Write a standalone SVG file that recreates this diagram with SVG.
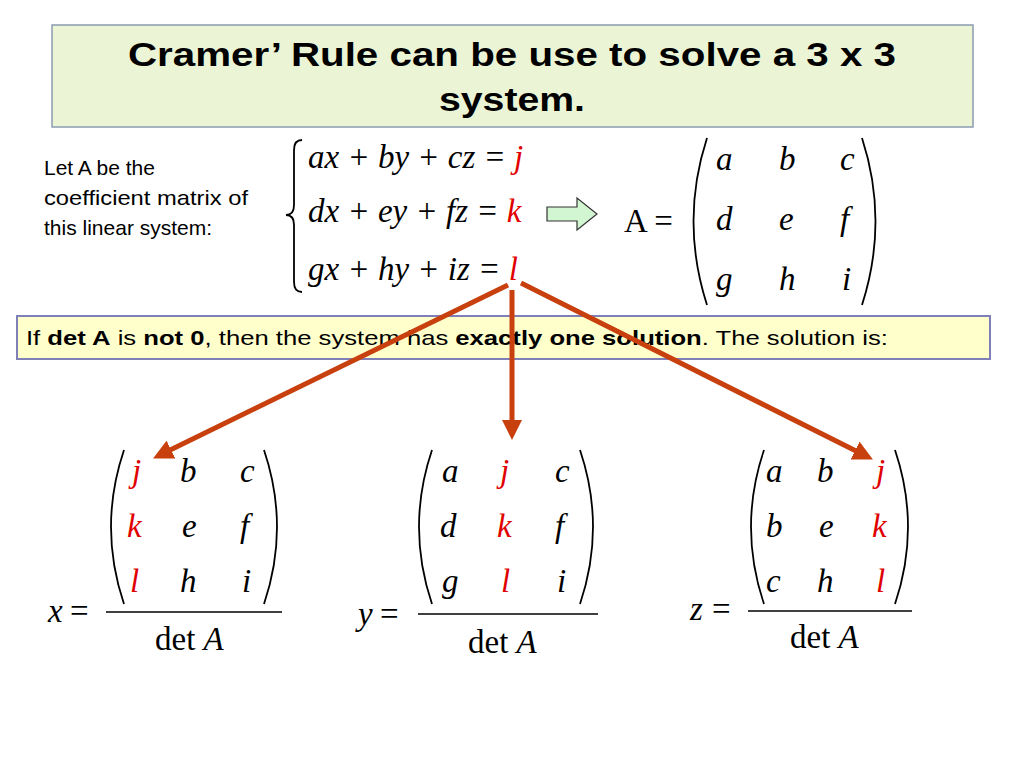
<svg xmlns="http://www.w3.org/2000/svg" width="1024" height="768" viewBox="0 0 1024 768">
<style>
.m{font-family:"Liberation Serif",serif;font-style:italic;font-size:33px;fill:#000}
.r{fill:#e00000}
.n{font-family:"Liberation Serif",serif;font-size:33px}
.s{font-family:"Liberation Sans",sans-serif}
.p{fill:none;stroke:#000;stroke-width:1.8}
.arr{stroke:#c8400e;stroke-width:5;fill:none}
</style>
<defs>
<marker id="ah" markerWidth="4" markerHeight="4" refX="2" refY="2" orient="auto" markerUnits="strokeWidth" viewBox="0 0 4 4"><path d="M0,0L4,2L0,4z" fill="#c8400e"/></marker>
</defs>
<rect width="1024" height="768" fill="#fff"/>
<g id="title">
<rect x="52" y="25" width="921" height="102" fill="#ebf5d6" stroke="#8c9bb0" stroke-width="1.5"/>
<text class="s" x="512" y="66" font-size="34" font-weight="bold" text-anchor="middle" textLength="768" lengthAdjust="spacingAndGlyphs">Cramer’ Rule can  be use to solve a 3 x 3</text>
<text class="s" x="512" y="111" font-size="34" font-weight="bold" text-anchor="middle" textLength="146" lengthAdjust="spacingAndGlyphs">system.</text>
</g>
<g id="letA" class="s" font-size="21">
<text x="44" y="175">Let A be the</text>
<text x="44" y="205" textLength="204" lengthAdjust="spacingAndGlyphs">coefficient matrix of</text>
<text x="44" y="235">this linear system:</text>
</g>
<g id="system">
<path class="p" d="M302,140 Q294,140 294,150 L294,205 Q294,215 286,215 Q294,215 294,225 L294,282 Q294,292 302,292"/>
<text class="m" x="308" y="168">ax + by + cz = <tspan class="r">j</tspan></text>
<text class="m" x="308" y="222">dx + ey + fz = <tspan class="r">k</tspan></text>
<text class="m" x="308" y="280">gx + hy + iz = <tspan class="r">l</tspan></text>
</g>
<g id="greenarrow">
<path d="M547,207 L577,207 L577,198 L597,214 L577,230 L577,221 L547,221 Z" fill="#d2f5d2" stroke="#333" stroke-width="1.2"/>
</g>
<g id="matrixA">
<text class="n" x="624" y="232">A =</text>
<path class="p" d="M707,138 Q680,221 707,305"/>
<path class="p" d="M862,138 Q889,221 862,305"/>
<text class="m" x="716" y="170">a</text><text class="m" x="779" y="170">b</text><text class="m" x="840" y="170">c</text>
<text class="m" x="716" y="230">d</text><text class="m" x="779" y="230">e</text><text class="m" x="840" y="230">f</text>
<text class="m" x="716" y="290">g</text><text class="m" x="779" y="290">h</text><text class="m" x="842" y="290">i</text>
</g>
<g id="condition">
<rect x="17" y="316" width="973" height="43" fill="#ffffcc" stroke="#8080b8" stroke-width="2"/>
<text class="s" x="26" y="345" font-size="21" textLength="862" lengthAdjust="spacingAndGlyphs">If <tspan font-weight="bold">det A</tspan> is <tspan font-weight="bold">not 0</tspan>, then the system has <tspan font-weight="bold">exactly one solution</tspan>. The solution is:</text>
</g>
<g id="connectors">
<line class="arr" x1="508" y1="285" x2="162" y2="454" marker-end="url(#ah)"/>
<line class="arr" x1="512" y1="290" x2="512" y2="430" marker-end="url(#ah)"/>
<line class="arr" x1="521" y1="283" x2="864" y2="455" marker-end="url(#ah)"/>
</g>
<g id="xsol">
<text class="m" x="48" y="622">x</text><text class="n" x="70" y="622">=</text>
<path class="p" d="M124,450 Q98,527 124,604"/>
<path class="p" d="M264,450 Q290,527 264,604"/>
<text class="m r" x="132" y="482">j</text><text class="m" x="180" y="482">b</text><text class="m" x="240" y="482">c</text>
<text class="m r" x="127" y="537">k</text><text class="m" x="182" y="537">e</text><text class="m" x="240" y="537">f</text>
<text class="m r" x="130" y="592">l</text><text class="m" x="180" y="592">h</text><text class="m" x="242" y="592">i</text>
<line x1="106" y1="612" x2="282" y2="612" stroke="#000" stroke-width="1.6"/>
<text class="n" x="155" y="650">det <tspan font-style="italic">A</tspan></text>
</g>
<g id="ysol">
<text class="m" x="358" y="625">y</text><text class="n" x="380" y="625">=</text>
<path class="p" d="M432,450 Q406,527 432,604"/>
<path class="p" d="M580,450 Q606,527 580,604"/>
<text class="m" x="442" y="482">a</text><text class="m r" x="500" y="482">j</text><text class="m" x="555" y="482">c</text>
<text class="m" x="440" y="537">d</text><text class="m r" x="497" y="537">k</text><text class="m" x="555" y="537">f</text>
<text class="m" x="442" y="592">g</text><text class="m r" x="501" y="592">l</text><text class="m" x="557" y="592">i</text>
<line x1="418" y1="614" x2="598" y2="614" stroke="#000" stroke-width="1.6"/>
<text class="n" x="468" y="653">det <tspan font-style="italic">A</tspan></text>
</g>
<g id="zsol">
<text class="m" x="690" y="620">z</text><text class="n" x="712" y="620">=</text>
<path class="p" d="M764,450 Q738,527 764,604"/>
<path class="p" d="M895,450 Q921,527 895,604"/>
<text class="m" x="766" y="482">a</text><text class="m" x="817" y="482">b</text><text class="m r" x="876" y="482">j</text>
<text class="m" x="766" y="537">b</text><text class="m" x="819" y="537">e</text><text class="m r" x="872" y="537">k</text>
<text class="m" x="766" y="592">c</text><text class="m" x="817" y="592">h</text><text class="m r" x="876" y="592">l</text>
<line x1="748" y1="611" x2="912" y2="611" stroke="#000" stroke-width="1.6"/>
<text class="n" x="790" y="648">det <tspan font-style="italic">A</tspan></text>
</g>
</svg>
